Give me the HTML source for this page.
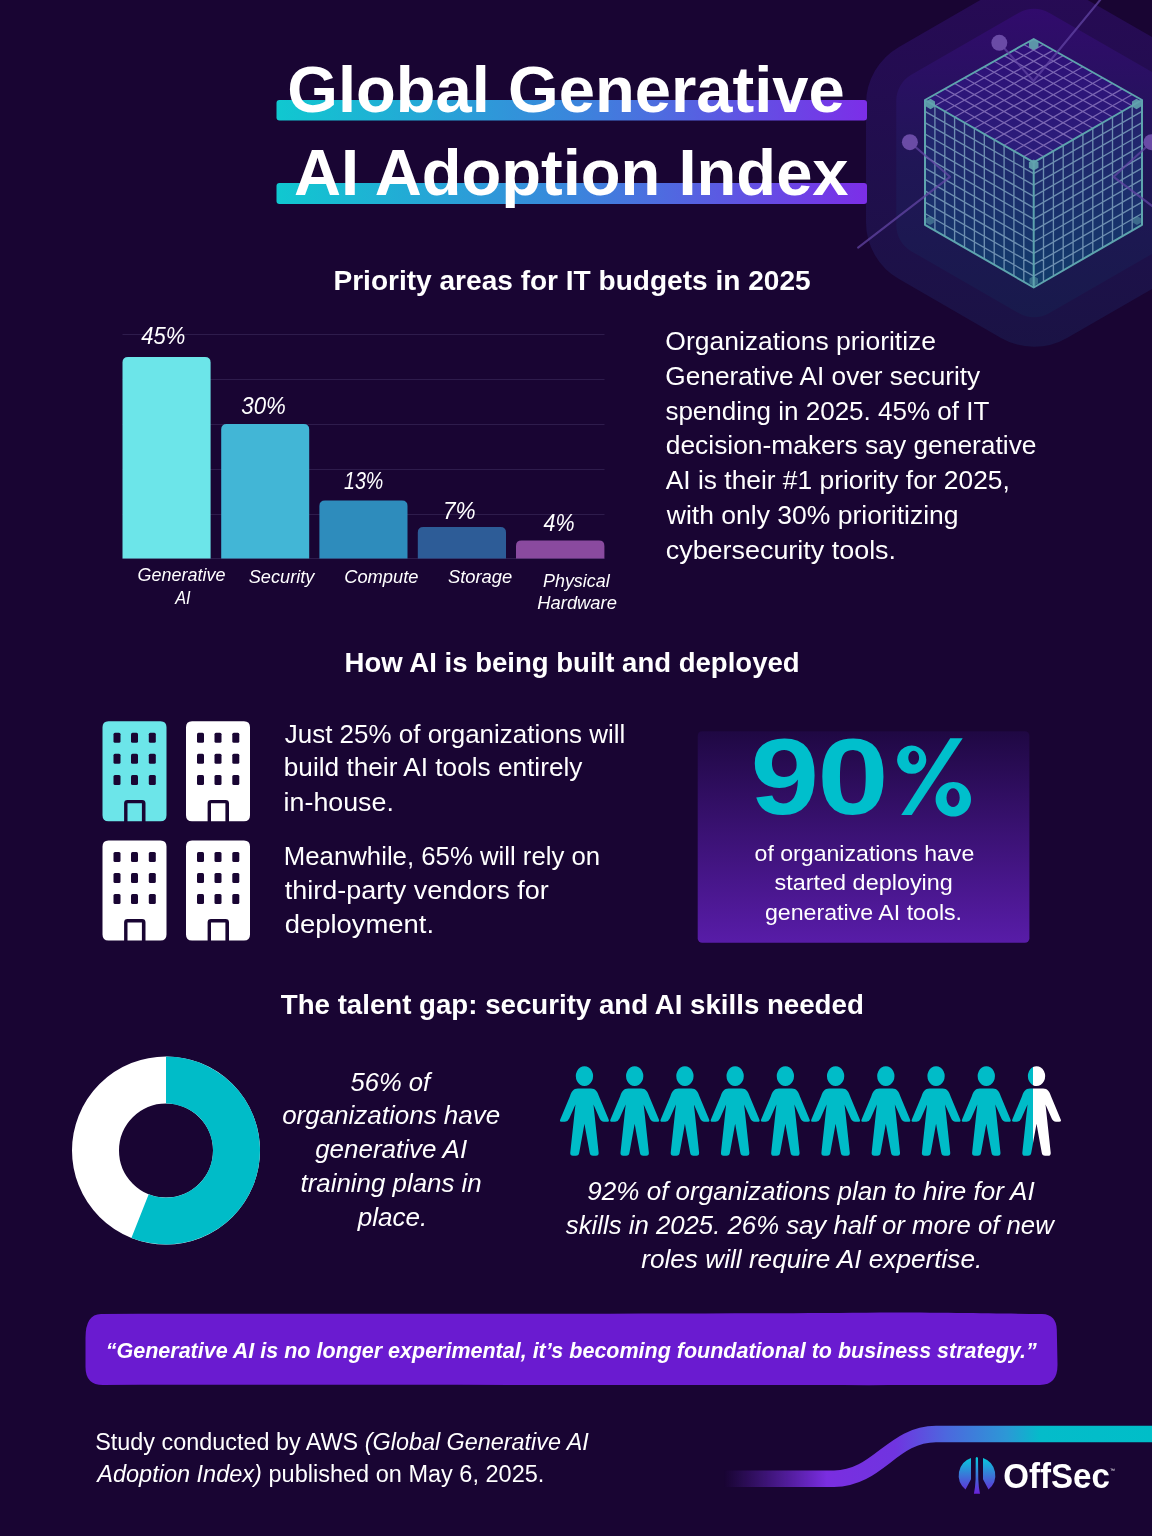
<!DOCTYPE html>
<html><head><meta charset="utf-8">
<style>
html,body{margin:0;padding:0;background:#190533;}
body{width:1152px;height:1536px;overflow:hidden;position:relative;}
svg{position:absolute;left:0;top:0;display:block;will-change:transform;}
text{font-family:"Liberation Sans",sans-serif;}
</style></head><body>
<svg width="1152" height="1536" viewBox="0 0 1152 1536">
<defs>
  <linearGradient id="tbar" x1="0" x2="1" y1="0" y2="0">
    <stop offset="0" stop-color="#10c8d0"/>
    <stop offset="0.5" stop-color="#3a86dc"/>
    <stop offset="1" stop-color="#7c2ee8"/>
  </linearGradient>
  <linearGradient id="box90" x1="0" x2="0" y1="0" y2="1">
    <stop offset="0" stop-color="#1f0843"/>
    <stop offset="1" stop-color="#581ca8"/>
  </linearGradient>
  <linearGradient id="swoosh" x1="724" x2="1152" y1="0" y2="0" gradientUnits="userSpaceOnUse">
    <stop offset="0" stop-color="#6a28d0" stop-opacity="0"/>
    <stop offset="0.24" stop-color="#7a2ee0"/>
    <stop offset="0.40" stop-color="#7034e0"/>
    <stop offset="0.52" stop-color="#4c68de"/>
    <stop offset="0.66" stop-color="#2c98d6"/>
    <stop offset="0.74" stop-color="#04bcca"/>
    <stop offset="1" stop-color="#00bec8"/>
  </linearGradient>
  <linearGradient id="logo" x1="0" x2="0" y1="1456" y2="1494" gradientUnits="userSpaceOnUse">
    <stop offset="0" stop-color="#00d2dc"/>
    <stop offset="0.5" stop-color="#3a78d8"/>
    <stop offset="1" stop-color="#6a20d8"/>
  </linearGradient>
</defs>

<!-- CUBE -->
<defs><linearGradient id="hexo" x1="0" x2="0" y1="0" y2="1"><stop offset="0" stop-color="#270a55"/><stop offset="1" stop-color="#1a1345"/></linearGradient>
<linearGradient id="hexi" x1="0" x2="0" y1="0" y2="1"><stop offset="0" stop-color="#310b6c"/><stop offset="0.5" stop-color="#201656"/><stop offset="1" stop-color="#181a4c"/></linearGradient>
<linearGradient id="faceside" x1="0" x2="0" y1="100" y2="287" gradientUnits="userSpaceOnUse"><stop offset="0" stop-color="#25206e"/><stop offset="1" stop-color="#113c6a"/></linearGradient>
<linearGradient id="facetop" x1="0" x2="0" y1="39" y2="162" gradientUnits="userSpaceOnUse"><stop offset="0" stop-color="#2f0f78"/><stop offset="1" stop-color="#2a1e7a"/></linearGradient></defs>
<path d="M1001.0 -11.9 A66.0 66.0 0 0 1 1067.0 -11.9 L1169.0 46.9 A66.0 66.0 0 0 1 1202.0 104.1 L1202.0 221.9 A66.0 66.0 0 0 1 1169.0 279.1 L1067.0 337.9 A66.0 66.0 0 0 1 1001.0 337.9 L899.0 279.1 A66.0 66.0 0 0 1 866.0 221.9 L866.0 104.1 A66.0 66.0 0 0 1 899.0 46.9 Z" fill="url(#hexo)"/>
<path d="M1019.0 12.7 A30.0 30.0 0 0 1 1049.0 12.7 L1156.7 74.8 A30.0 30.0 0 0 1 1171.7 100.8 L1171.7 225.2 A30.0 30.0 0 0 1 1156.7 251.2 L1049.0 313.3 A30.0 30.0 0 0 1 1019.0 313.3 L911.3 251.2 A30.0 30.0 0 0 1 896.3 225.2 L896.3 100.8 A30.0 30.0 0 0 1 911.3 74.8 Z" fill="url(#hexi)"/>
<path d="M1033.7 39.0 L1142.0 100.0 L1033.7 162.3 L925.0 100.0 Z" fill="url(#facetop)"/>
<path d="M925.0 100.0 L1033.7 162.3 L1033.7 287.5 L925.0 224.8 Z" fill="url(#faceside)"/>
<path d="M1033.7 162.3 L1142.0 100.0 L1142.0 224.8 L1033.7 287.5 Z" fill="url(#faceside)"/>
<path d="M934.9 105.7 L934.9 230.5 M925.0 111.3 L1033.7 173.7 M1043.5 156.6 L1043.5 281.8 M1033.7 173.7 L1142.0 111.3 M944.8 111.3 L944.8 236.2 M925.0 122.7 L1033.7 185.1 M1053.4 151.0 L1053.4 276.1 M1033.7 185.1 L1142.0 122.7 M954.6 117.0 L954.6 241.9 M925.0 134.0 L1033.7 196.4 M1063.2 145.3 L1063.2 270.4 M1033.7 196.4 L1142.0 134.0 M964.5 122.7 L964.5 247.6 M925.0 145.4 L1033.7 207.8 M1073.1 139.6 L1073.1 264.7 M1033.7 207.8 L1142.0 145.4 M974.4 128.3 L974.4 253.3 M925.0 156.7 L1033.7 219.2 M1082.9 134.0 L1082.9 259.0 M1033.7 219.2 L1142.0 156.7 M984.3 134.0 L984.3 259.0 M925.0 168.1 L1033.7 230.6 M1092.8 128.3 L1092.8 253.3 M1033.7 230.6 L1142.0 168.1 M994.2 139.6 L994.2 264.7 M925.0 179.4 L1033.7 242.0 M1102.6 122.7 L1102.6 247.6 M1033.7 242.0 L1142.0 179.4 M1004.1 145.3 L1004.1 270.4 M925.0 190.8 L1033.7 253.4 M1112.5 117.0 L1112.5 241.9 M1033.7 253.4 L1142.0 190.8 M1013.9 151.0 L1013.9 276.1 M925.0 202.1 L1033.7 264.7 M1122.3 111.3 L1122.3 236.2 M1033.7 264.7 L1142.0 202.1 M1023.8 156.6 L1023.8 281.8 M925.0 213.5 L1033.7 276.1 M1132.2 105.7 L1132.2 230.5 M1033.7 276.1 L1142.0 213.5" stroke="#7698b8" stroke-opacity="0.9" stroke-width="1.35" fill="none"/>
<path d="M934.9 94.5 L1043.5 156.6 M1043.5 44.5 L934.9 105.7 M944.8 88.9 L1053.4 151.0 M1053.4 50.1 L944.8 111.3 M954.6 83.4 L1063.2 145.3 M1063.2 55.6 L954.6 117.0 M964.5 77.8 L1073.1 139.6 M1073.1 61.2 L964.5 122.7 M974.4 72.3 L1082.9 134.0 M1082.9 66.7 L974.4 128.3 M984.3 66.7 L1092.8 128.3 M1092.8 72.3 L984.3 134.0 M994.2 61.2 L1102.6 122.7 M1102.6 77.8 L994.2 139.6 M1004.1 55.6 L1112.5 117.0 M1112.5 83.4 L1004.1 145.3 M1013.9 50.1 L1122.3 111.3 M1122.3 88.9 L1013.9 151.0 M1023.8 44.5 L1132.2 105.7 M1132.2 94.5 L1023.8 156.6" stroke="#8c78c0" stroke-opacity="0.8" stroke-width="1.3" fill="none"/>
<path d="M1033.7 39.0 L1142.0 100.0 L1033.7 162.3 L925.0 100.0 Z M925.0 100.0 L925.0 224.8 L1033.7 287.5 L1142.0 224.8 L1142.0 100.0 M1033.7 162.3 L1033.7 287.5 L1033.7 287.5" stroke="#5ea4ae" stroke-width="2" fill="none" stroke-linejoin="round"/>
<path d="M1033.7 39.0 L1038.5 41.8 L1038.5 47.2 L1033.7 50.0 L1028.9 47.2 L1028.9 41.8 Z" fill="#62a4ae" fill-opacity="0.9"/>
<path d="M930.5 98.8 L935.0 101.4 L935.0 106.6 L930.5 109.2 L926.0 106.6 L926.0 101.4 Z" fill="#62a4ae" fill-opacity="0.9"/>
<path d="M1136.5 98.8 L1141.0 101.4 L1141.0 106.6 L1136.5 109.2 L1132.0 106.6 L1132.0 101.4 Z" fill="#62a4ae" fill-opacity="0.9"/>
<path d="M1033.7 159.5 L1038.5 162.2 L1038.5 167.8 L1033.7 170.5 L1028.9 167.8 L1028.9 162.2 Z" fill="#62a4ae" fill-opacity="0.9"/>
<path d="M930.0 216.0 L933.9 218.2 L933.9 222.8 L930.0 225.0 L926.1 222.8 L926.1 218.2 Z" fill="#62a4ae" fill-opacity="0.5"/>
<path d="M1137.0 216.0 L1140.9 218.2 L1140.9 222.8 L1137.0 225.0 L1133.1 222.8 L1133.1 218.2 Z" fill="#62a4ae" fill-opacity="0.5"/>
<path d="M1033.7 276.0 L1038.0 278.5 L1038.0 283.5 L1033.7 286.0 L1029.4 283.5 L1029.4 278.5 Z" fill="#62a4ae" fill-opacity="0.5"/>
<g stroke="#6446a6" stroke-opacity="0.72" stroke-width="2.1" fill="none" stroke-linecap="round" stroke-linejoin="round">
<path d="M999.3 42.8 L1033.5 81 L1110 -12"/>
<path d="M909.9 142.2 L950 176.8 L858.1 247.6"/>
<path d="M1151.5 142.2 L1113.6 176.8 L1160 212"/>
</g>
<g fill="#6a4ba6">
<circle cx="999.3" cy="42.8" r="8"/><circle cx="909.9" cy="142.2" r="8"/><circle cx="1151.5" cy="142.2" r="8"/>
</g>
<!-- TITLE -->
<rect x="276.5" y="100" width="590.5" height="20.5" rx="3" fill="url(#tbar)"/>
<rect x="276.5" y="183" width="590.5" height="21" rx="3" fill="url(#tbar)"/>

<!-- HEADINGS -->

<!-- CHART -->
<g stroke="#2e1c4c" stroke-width="1">
  <line x1="122.5" x2="604.5" y1="334.5" y2="334.5"/>
  <line x1="122.5" x2="604.5" y1="379.5" y2="379.5"/>
  <line x1="122.5" x2="604.5" y1="424.5" y2="424.5"/>
  <line x1="122.5" x2="604.5" y1="469.5" y2="469.5"/>
  <line x1="122.5" x2="604.5" y1="514.5" y2="514.5"/>
  <line x1="122.5" x2="604.5" y1="558.5" y2="558.5"/>
</g>
<path d="M122.5 558.5 V362.5 Q122.5 357 128 357 H205 Q210.6 357 210.6 362.5 V558.5 Z" fill="#6ce5e9"/>
<path d="M221.2 558.5 V429.5 Q221.2 424 226.7 424 H303.7 Q309.2 424 309.2 429.5 V558.5 Z" fill="#42b6d6"/>
<path d="M319.4 558.5 V506 Q319.4 500.5 325 500.5 H402 Q407.5 500.5 407.5 506 V558.5 Z" fill="#2e8cbc"/>
<path d="M417.8 558.5 V532.5 Q417.8 527 423.3 527 H500.5 Q506 527 506 532.5 V558.5 Z" fill="#2d5c97"/>
<path d="M516 558.5 V546 Q516 540.6 521.5 540.6 H599 Q604.4 540.6 604.4 546 V558.5 Z" fill="#8a4a9f"/>

<!-- PRIORITY TEXT -->

<!-- BUILDINGS -->
<defs>
  <g id="bld">
    <path d="M6 0 H58 Q64 0 64 6 V94 Q64 100 58 100 H43 V82 Q43 78.6 39.6 78.6 H25 Q21.6 78.6 21.6 82 V100 H6 Q0 100 0 94 V6 Q0 0 6 0 Z M25 100 V82 H39.4 V100 Z" fill-rule="evenodd"/>
    <g fill="#190533">
      <rect x="11" y="11.4" width="7" height="10" rx="1.5"/>
      <rect x="28.5" y="11.4" width="7" height="10" rx="1.5"/>
      <rect x="46.3" y="11.4" width="7" height="10" rx="1.5"/>
      <rect x="11" y="32.5" width="7" height="10" rx="1.5"/>
      <rect x="28.5" y="32.5" width="7" height="10" rx="1.5"/>
      <rect x="46.3" y="32.5" width="7" height="10" rx="1.5"/>
      <rect x="11" y="53.6" width="7" height="10" rx="1.5"/>
      <rect x="28.5" y="53.6" width="7" height="10" rx="1.5"/>
      <rect x="46.3" y="53.6" width="7" height="10" rx="1.5"/>
    </g>
  </g>
</defs>
<use href="#bld" x="102.5" y="721.3" fill="#6ce5e9"/>
<use href="#bld" x="186" y="721.3" fill="#fff"/>
<use href="#bld" x="102.5" y="840.5" fill="#fff"/>
<use href="#bld" x="186" y="840.5" fill="#fff"/>


<!-- 90% BOX -->
<rect x="697.7" y="731.3" width="331.7" height="211.5" rx="4.5" fill="url(#box90)"/>

<path fill="#00bfcc" fill-rule="evenodd" d="M911.7 745.6 A14.6 14.1 0 1 1 911.69 745.6 Z M913.7 750.8 A5.4 6.9 0 1 0 913.71 750.8 Z M953.3 782 A17.7 17.3 0 1 1 953.29 782 Z M953.1 788.3 A6.6 9.4 0 1 0 953.11 788.3 Z"/>
<path fill="#00bfcc" d="M950.2 738.3 H962.7 L911.7 815 H901.25 Z"/>
<!-- DONUT -->
<circle cx="166" cy="1150.5" r="70.5" fill="none" stroke="#ffffff" stroke-width="47"/>
<path fill="#00bcc8" d="M166 1056.5 A94 94 0 1 1 131.4 1237.9 L148.7 1194.2 A47 47 0 1 0 166 1103.5 Z"/>


<!-- PEOPLE -->
<defs>
  <path id="person" d="M0 22.6 L-6.5 22.6 C-11.2 22.6 -12.9 25.8 -14.5 30.2 L-24.2 53.5 Q-25.3 55.8 -22.5 55.8 L-19.5 55.8 Q-16.4 55.6 -15.2 52.6 L-9 38.6 L-14.2 86.8 Q-14.4 89.7 -11.5 89.7 L-8.6 89.7 Q-5.6 89.7 -5.2 86.5 L0 57.8 L5.2 86.5 Q5.6 89.7 8.6 89.7 L11.5 89.7 Q14.4 89.7 14.2 86.8 L9 38.6 L15.2 52.6 Q16.4 55.6 19.5 55.8 L22.5 55.8 Q25.3 55.8 24.2 53.5 L14.5 30.2 C12.9 25.8 11.2 22.6 6.5 22.6 Z M0 0.2 A8.65 9.9 0 1 0 0.001 0.2 Z"/>
</defs>
<use href="#person" x="584.45" y="1066" fill="#00bcc8"/>
<use href="#person" x="634.68" y="1066" fill="#00bcc8"/>
<use href="#person" x="684.91" y="1066" fill="#00bcc8"/>
<use href="#person" x="735.14" y="1066" fill="#00bcc8"/>
<use href="#person" x="785.37" y="1066" fill="#00bcc8"/>
<use href="#person" x="835.60" y="1066" fill="#00bcc8"/>
<use href="#person" x="885.83" y="1066" fill="#00bcc8"/>
<use href="#person" x="936.06" y="1066" fill="#00bcc8"/>
<use href="#person" x="986.29" y="1066" fill="#00bcc8"/>
<clipPath id="pl"><rect x="0" y="1050" width="1032.92" height="120"/></clipPath>
<clipPath id="pr"><rect x="1032.92" y="1050" width="200" height="120"/></clipPath>
<g clip-path="url(#pl)"><use href="#person" x="1036.52" y="1066" fill="#00bcc8"/></g>
<g clip-path="url(#pr)"><use href="#person" x="1036.52" y="1066" fill="#ffffff"/></g>


<!-- QUOTE -->
<path d="M101 1314 C400 1313.5 700 1314.5 880 1312.5 C950 1312.5 1000 1313.5 1042 1314 Q1056.5 1314.5 1056.8 1330 L1057.5 1364 Q1058 1385 1040 1385 C800 1385.5 400 1384.5 103 1385 Q85.5 1385 85.5 1367 V1338 Q85.5 1314 101 1314 Z" fill="#6a1bd0"/>

<!-- FOOTER -->

<path d="M724 1478.7 H834 C878 1478.7 892 1434 936 1434 H1152" fill="none" stroke="url(#swoosh)" stroke-width="16.5"/>

<!-- LOGO -->
<g fill="url(#logo)">
  <path d="M971 1457.9 A18.3 18.3 0 0 0 965.5 1489.4 L971 1479.3 Z"/>
  <path d="M983 1457.9 A18.3 18.3 0 0 1 988.5 1489.4 L983 1479.3 Z"/>
  <path d="M975.7 1458 Q976.85 1455.8 978 1458 L978.3 1479.3 Q978.6 1487 980 1493.8 H973.9 Q975.3 1487 975.6 1479.3 Z"/>
</g>

<text id="t1" y="111.80" font-size="65.5" fill="#fff" font-weight="bold" x="287.23" textLength="557.55" lengthAdjust="spacingAndGlyphs">Global Generative</text>
<text id="t2" y="195.20" font-size="65.5" fill="#fff" font-weight="bold" x="293.93" textLength="554.64" lengthAdjust="spacingAndGlyphs">AI Adoption Index</text>
<text id="h1" y="290.00" font-size="27.8" fill="#fff" font-weight="bold" x="333.49" textLength="477.12" lengthAdjust="spacingAndGlyphs">Priority areas for IT budgets in 2025</text>
<text id="h2" y="671.70" font-size="27.8" fill="#fff" font-weight="bold" x="344.56" textLength="455.07" lengthAdjust="spacingAndGlyphs">How AI is being built and deployed</text>
<text id="h3" y="1013.80" font-size="27.8" fill="#fff" font-weight="bold" x="280.79" textLength="583.01" lengthAdjust="spacingAndGlyphs">The talent gap: security and AI skills needed</text>
<text id="p45" y="344.00" font-size="23.5" fill="#fff" font-style="italic" x="141.16" textLength="44.11" lengthAdjust="spacingAndGlyphs">45%</text>
<text id="p30" y="414.00" font-size="23.5" fill="#fff" font-style="italic" x="241.31" textLength="44.51" lengthAdjust="spacingAndGlyphs">30%</text>
<text id="p13" y="489.20" font-size="23.5" fill="#fff" font-style="italic" x="343.98" textLength="39.41" lengthAdjust="spacingAndGlyphs">13%</text>
<text id="p7" y="519.00" font-size="23.5" fill="#fff" font-style="italic" x="442.94" textLength="32.62" lengthAdjust="spacingAndGlyphs">7%</text>
<text id="p4" y="531.40" font-size="23.5" fill="#fff" font-style="italic" x="543.48" textLength="31.01" lengthAdjust="spacingAndGlyphs">4%</text>
<text id="l1" y="580.80" font-size="18" fill="#fff" font-style="italic" x="137.54" textLength="87.91" lengthAdjust="spacingAndGlyphs">Generative</text>
<text id="l1b" y="604.30" font-size="18" fill="#fff" font-style="italic" x="175.25" textLength="15.41" lengthAdjust="spacingAndGlyphs">AI</text>
<text id="l2" y="582.60" font-size="18" fill="#fff" font-style="italic" x="248.71" textLength="65.69" lengthAdjust="spacingAndGlyphs">Security</text>
<text id="l3" y="582.60" font-size="18" fill="#fff" font-style="italic" x="344.16" textLength="74.36" lengthAdjust="spacingAndGlyphs">Compute</text>
<text id="l4" y="582.60" font-size="18" fill="#fff" font-style="italic" x="447.90" textLength="64.31" lengthAdjust="spacingAndGlyphs">Storage</text>
<text id="l5" y="586.90" font-size="18" fill="#fff" font-style="italic" x="543.01" textLength="66.64" lengthAdjust="spacingAndGlyphs">Physical</text>
<text id="l5b" y="609.00" font-size="18" fill="#fff" font-style="italic" x="537.29" textLength="79.63" lengthAdjust="spacingAndGlyphs">Hardware</text>
<text id="o1" y="350.00" font-size="26" fill="#fff" x="665.38" textLength="270.64" lengthAdjust="spacingAndGlyphs">Organizations prioritize</text>
<text id="o2" y="384.80" font-size="26" fill="#fff" x="665.37" textLength="314.88" lengthAdjust="spacingAndGlyphs">Generative AI over security</text>
<text id="o3" y="419.60" font-size="26" fill="#fff" x="665.40" textLength="323.98" lengthAdjust="spacingAndGlyphs">spending in 2025. 45% of IT</text>
<text id="o4" y="454.40" font-size="26" fill="#fff" x="665.78" textLength="370.76" lengthAdjust="spacingAndGlyphs">decision-makers say generative</text>
<text id="o5" y="489.20" font-size="26" fill="#fff" x="665.80" textLength="343.97" lengthAdjust="spacingAndGlyphs">AI is their #1 priority for 2025,</text>
<text id="o6" y="524.00" font-size="26" fill="#fff" x="666.79" textLength="291.83" lengthAdjust="spacingAndGlyphs">with only 30% prioritizing</text>
<text id="o7" y="558.80" font-size="26" fill="#fff" x="665.74" textLength="230.31" lengthAdjust="spacingAndGlyphs">cybersecurity tools.</text>
<text id="b1" y="742.70" font-size="26" fill="#fff" x="284.80" textLength="340.55" lengthAdjust="spacingAndGlyphs">Just 25% of organizations will</text>
<text id="b2" y="776.40" font-size="26" fill="#fff" x="283.77" textLength="298.66" lengthAdjust="spacingAndGlyphs">build their AI tools entirely</text>
<text id="b3" y="810.80" font-size="26" fill="#fff" x="283.64" textLength="110.21" lengthAdjust="spacingAndGlyphs">in-house.</text>
<text id="b4" y="864.70" font-size="26" fill="#fff" x="283.82" textLength="316.38" lengthAdjust="spacingAndGlyphs">Meanwhile, 65% will rely on</text>
<text id="b5" y="898.90" font-size="26" fill="#fff" x="284.78" textLength="263.88" lengthAdjust="spacingAndGlyphs">third-party vendors for</text>
<text id="b6" y="932.90" font-size="26" fill="#fff" x="284.66" textLength="149.45" lengthAdjust="spacingAndGlyphs">deployment.</text>
<text id="n9" y="813.80" font-size="108" fill="#00bfcc" font-weight="bold" x="750.50" textLength="68.66" lengthAdjust="spacingAndGlyphs">9</text>
<text id="n0" y="813.80" font-size="108" fill="#00bfcc" font-weight="bold" x="817.29" textLength="71.46" lengthAdjust="spacingAndGlyphs">0</text>
<text id="n1" y="860.50" font-size="22.5" fill="#fff" x="754.57" textLength="219.71" lengthAdjust="spacingAndGlyphs">of organizations have</text>
<text id="n2" y="890.40" font-size="22.5" fill="#fff" x="774.56" textLength="178.32" lengthAdjust="spacingAndGlyphs">started deploying</text>
<text id="n3" y="920.10" font-size="22.5" fill="#fff" x="764.95" textLength="197.13" lengthAdjust="spacingAndGlyphs">generative AI tools.</text>
<text id="s1" y="1090.70" font-size="25" fill="#fff" font-style="italic" x="350.51" textLength="79.71" lengthAdjust="spacingAndGlyphs">56% of</text>
<text id="s2" y="1124.40" font-size="25" fill="#fff" font-style="italic" x="282.15" textLength="218.04" lengthAdjust="spacingAndGlyphs">organizations have</text>
<text id="s3" y="1158.20" font-size="25" fill="#fff" font-style="italic" x="315.16" textLength="151.96" lengthAdjust="spacingAndGlyphs">generative AI</text>
<text id="s4" y="1192.00" font-size="25" fill="#fff" font-style="italic" x="300.55" textLength="181.18" lengthAdjust="spacingAndGlyphs">training plans in</text>
<text id="s5" y="1225.80" font-size="25" fill="#fff" font-style="italic" x="357.76" textLength="69.58" lengthAdjust="spacingAndGlyphs">place.</text>
<text id="r1" y="1200.00" font-size="25.7" fill="#fff" font-style="italic" x="587.38" textLength="447.34" lengthAdjust="spacingAndGlyphs">92% of organizations plan to hire for AI</text>
<text id="r2" y="1233.80" font-size="25.7" fill="#fff" font-style="italic" x="565.80" textLength="487.97" lengthAdjust="spacingAndGlyphs">skills in 2025. 26% say half or more of new</text>
<text id="r3" y="1267.50" font-size="25.7" fill="#fff" font-style="italic" x="641.18" textLength="341.14" lengthAdjust="spacingAndGlyphs">roles will require AI expertise.</text>
<text id="q" y="1357.50" font-size="21.5" fill="#fff" font-weight="bold" font-style="italic" x="105.80" textLength="930.88" lengthAdjust="spacingAndGlyphs">“Generative AI is no longer experimental, it’s becoming foundational to business strategy.”</text>
<text id="f1" y="1449.80" font-size="23" fill="#fff" x="95.17" textLength="493.58" lengthAdjust="spacingAndGlyphs">Study conducted by AWS <tspan font-style="italic">(Global Generative AI</tspan></text>
<text id="f2" y="1482.00" font-size="23" fill="#fff" x="97.21" textLength="447.18" lengthAdjust="spacingAndGlyphs"><tspan font-style="italic">Adoption Index)</tspan> published on May 6, 2025.</text>
<text id="os" y="1487.80" font-size="35.5" fill="#fff" font-weight="bold" x="1003.24" textLength="106.61" lengthAdjust="spacingAndGlyphs">OffSec</text>
<text x="1110" y="1472" font-size="5" fill="#fff">™</text>
</svg>
</body></html>
